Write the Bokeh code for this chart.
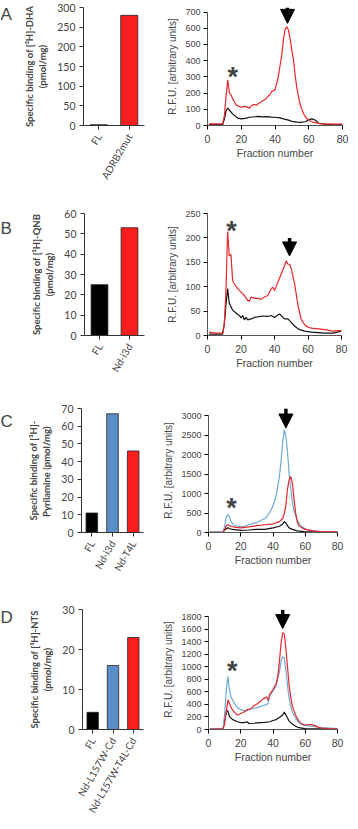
import math
from bokeh.plotting import figure
from bokeh.layouts import column, row
from bokeh.models import Range1d, FactorRange, SingleIntervalTicker, Label, Arrow, NormalHead
from bokeh.embed import file_html
from bokeh.resources import INLINE

# ---------------- data ----------------
A_cats = ["FL", "ADRB2mut"]
A_vals = [2, 280]
B_cats = ["FL", "Nd-i3d"]
B_vals = [25, 53]
C_cats = ["FL", "Nd-i3d", "Nd-T4L"]
C_vals = [11, 67, 46]
D_cats = ["FL", "Nd-L157W-Cd", "Nd-L157W-T4L-Cd"]
D_vals = [4.3, 16, 23]

A_red_x = [1,5,9,10,11,12,13,14,15,17,20,22,23,25,26,27,28,29,30,31,33,34,35,36,37,38,39,40,41,42,43,44,45,46,47,48,49,50,51,52,53,54,55,57,59,61,63,66,70,75,80]
A_red_y = [10,10,10,60,180,282,200,188,163,126,113,118,115,107,122,128,130,125,135,140,154,160,170,182,190,210,215,220,260,305,370,436,530,596,609,587,530,464,400,305,229,173,126,70,41,26,19,13,8,8,8]
A_blk_x = [1,5,9,10,11,12,13,15,18,20,23,25,28,30,33,35,38,40,43,45,48,50,53,55,58,60,62,64,66,70,75,80]
A_blk_y = [5,5,5,40,90,107,94,70,45,41,46,51,54,56,53,55,52,51,47,41,33,26,21,19,23,36,41,32,13,8,6,5]

B_red_x = [1,5,9,10,11,12,13,14,15,16,18,20,22,24,25,26,28,30,32,34,36,38,39,40,42,44,46,47,48,49,50,52,54,56,58,60,62,65,70,75,78,80]
B_red_y = [7,5,5,22,89,213,163,166,113,106,96,89,82,72,70,79,76,76,74,79,82,96,99,92,109,126,143,153,146,146,137,106,62,32,22,17,15,14,12,9,10,10]
B_blk_x = [1,5,9,10,11,12,13,14,15,17,19,20,21,22,23,24,26,28,30,33,36,38,40,42,43,44,46,48,50,52,55,58,62,70,75,80]
B_blk_y = [3,3,3,22,62,96,66,59,52,46,41,36,41,32,37,32,34,37,38,40,39,41,37,42,44,41,34,34,27,19,12,9,7,5,5,9]

C_blu_x = [1,5,9,10,11,12,13,14,16,18,20,22,25,28,30,33,35,36,38,40,42,44,45,46,47,48,49,50,51,52,53,55,57,60,63,66,70,80]
C_blu_y = [10,10,10,160,400,464,400,280,176,160,144,160,200,240,256,320,360,400,520,680,960,1440,1840,2320,2640,2480,2080,1520,1120,800,560,320,176,96,56,40,24,16]
C_red_x = [1,5,9,10,11,12,13,14,16,20,25,30,35,40,44,46,47,48,49,50,51,52,53,54,55,56,58,60,65,70,80]
C_red_y = [5,5,5,80,176,200,176,160,136,120,144,176,200,224,280,360,480,720,1120,1360,1440,1280,880,520,280,176,120,80,40,16,16]
C_blk_x = [1,5,9,10,12,13,15,20,25,30,35,40,44,46,47,48,49,50,52,55,60,70,80]
C_blk_y = [5,5,5,64,120,96,80,56,64,80,80,120,160,216,280,240,176,120,80,40,16,16,16]

D_red_x = [1,5,9,10,11,12,13,14,16,18,20,22,24,26,28,30,32,34,36,37,38,40,42,43,44,45,46,47,48,49,50,51,52,54,56,58,60,62,64,66,68,70,75,80]
D_red_y = [5,5,5,86,278,469,421,350,278,230,254,278,316,325,373,407,445,493,517,469,565,637,732,852,1091,1379,1546,1522,1283,996,708,517,373,230,134,86,72,77,77,62,38,24,14,10]
D_blu_x = [1,5,9,10,11,12,13,14,16,18,20,22,24,26,28,30,32,34,36,37,38,40,42,44,45,46,47,48,49,50,51,52,54,56,58,60,65,70,80]
D_blu_y = [5,5,5,230,613,843,637,517,421,350,316,302,302,325,335,350,364,383,397,421,541,613,708,924,1091,1163,1139,948,708,493,373,278,182,110,77,62,48,29,14]
D_blk_x = [1,5,9,10,11,12,13,15,18,20,22,24,25,28,30,35,38,40,42,44,46,47,48,49,50,52,54,56,60,70,80]
D_blk_y = [5,5,5,158,278,302,206,158,124,110,110,124,96,100,105,115,124,144,158,191,230,278,230,182,134,86,53,29,14,10,10]

BLACK = "#000000"
BLUE_BAR = "#5b8fc9"
RED_BAR = "#fb1e1e"
RED_LINE = "#e8262b"
BLUE_LINE = "#6fa8d2"
BLACK_LINE = "#111111"

BAR_FONT = "Lato"
LINE_FONT = "Liberation Sans"


def letter_fig(letter, h, y):
    p = figure(x_range=Range1d(0, 20), y_range=Range1d(0, h), width=20, height=h,
               output_backend="svg", toolbar_location=None, x_axis_type=None, y_axis_type=None,
               min_border_left=0, min_border_right=0, min_border_top=0, min_border_bottom=0)
    p.outline_line_color = None
    p.grid.visible = False
    p.background_fill_color = None
    p.border_fill_color = None
    p.add_layout(Label(x=0, y=y, text=letter, text_font=LINE_FONT, text_font_size="17px",
                       text_baseline="alphabetic", text_align="left"))
    return p


def bar_fig(cats, vals, colors, ymax, ystep, ylabel, w, h, left, right, top, bottom):
    p = figure(x_range=FactorRange(*cats), y_range=Range1d(0, ymax), width=w, height=h,
               output_backend="svg", toolbar_location=None,
               min_border_left=left, min_border_right=right, min_border_top=top, min_border_bottom=bottom)
    p.vbar(x=cats, top=vals, width=0.56, fill_color=colors, line_color="#222222", line_width=0.8)
    p.outline_line_color = None
    p.grid.visible = False
    p.background_fill_color = None
    p.border_fill_color = None
    ya = p.yaxis[0]
    ya.ticker = SingleIntervalTicker(interval=ystep, num_minor_ticks=0)
    ya.major_tick_out = 4
    ya.major_tick_in = 0
    ya.minor_tick_line_color = None
    ya.major_label_text_font = BAR_FONT
    ya.major_label_text_font_size = "10.5px"
    ya.major_label_standoff = 4
    ya.axis_label = ylabel
    ya.axis_label_text_font = BAR_FONT
    ya.axis_label_text_font_style = "bold"
    ya.axis_label_text_font_size = "9.5px"
    ya.axis_label_standoff = 6
    ya.axis_line_color = "#333333"
    ya.major_tick_line_color = "#333333"
    xa = p.xaxis[0]
    xa.major_tick_line_color = "#333333"
    xa.major_tick_out = 4
    xa.major_tick_in = 0
    xa.minor_tick_line_color = None
    xa.major_label_orientation = math.pi / 3
    xa.major_label_text_font = BAR_FONT
    xa.major_label_text_font_size = "10px"
    xa.major_label_standoff = 5
    xa.axis_line_color = "#333333"
    return p


def line_fig(series, ytop, ymax, ystep, w, h, left, right, top, bottom, star, arrow):
    p = figure(x_range=Range1d(0, 80), y_range=Range1d(0, ytop), width=w, height=h,
               output_backend="svg", toolbar_location=None,
               min_border_left=left, min_border_right=right, min_border_top=top, min_border_bottom=bottom)
    for xs, ys, col in series:
        p.line(xs, ys, line_color=col, line_width=1.2)
    p.outline_line_color = None
    p.grid.visible = False
    p.background_fill_color = None
    p.border_fill_color = None
    ya = p.yaxis[0]
    ya.bounds = (0, ymax)
    ya.ticker = SingleIntervalTicker(interval=ystep, num_minor_ticks=0)
    ya.major_tick_out = 4
    ya.major_tick_in = 0
    ya.minor_tick_line_color = None
    ya.major_label_text_font = LINE_FONT
    ya.major_label_text_font_size = "9px"
    ya.major_label_standoff = 3
    ya.axis_label = "R.F.U. [arbitrary units]"
    ya.axis_label_text_font = LINE_FONT
    ya.axis_label_text_font_style = "normal"
    ya.axis_label_text_font_size = "10px"
    ya.axis_label_standoff = 4
    ya.axis_line_color = "#555555"
    xa = p.xaxis[0]
    xa.ticker = SingleIntervalTicker(interval=20, num_minor_ticks=0)
    xa.major_tick_out = 4
    xa.major_tick_in = 0
    xa.minor_tick_line_color = None
    xa.major_label_text_font = LINE_FONT
    xa.major_label_text_font_size = "10.5px"
    xa.major_label_standoff = 5
    xa.axis_label = "Fraction number"
    xa.axis_label_text_font = LINE_FONT
    xa.axis_label_text_font_style = "normal"
    xa.axis_label_text_font_size = "10.5px"
    xa.axis_label_standoff = 1
    xa.axis_line_color = "#555555"
    p.add_layout(Label(x=star[0], y=star[1], text="*", text_font=LINE_FONT, text_font_size="27px",
                       text_font_style="bold", text_align="center", text_baseline="middle"))
    p.add_layout(Arrow(end=NormalHead(size=14, fill_color="black", line_color="black"),
                       x_start=arrow[0], y_start=arrow[1], x_end=arrow[0], y_end=arrow[2],
                       line_width=3.5, line_color="black"))
    return p


# Row A (page y 8..200)
letA = letter_fig("A", 192, 180)
barA = bar_fig(A_cats, A_vals, [BLACK, RED_BAR], 300, 50, "Specific binding of [³H]-DHA\n(pmol/mg)",
               144, 192, 63, 20, 7, 67)
lineA = line_fig([(A_blk_x, A_blk_y, BLACK_LINE), (A_red_x, A_red_y, RED_LINE)], 728, 700, 100,
                 186, 192, 43, 8, 0, 63, (15, 300), (47.4, 728, 630))
# Row B (page y 200..400)
letB = letter_fig("B", 200, 176)
barB = bar_fig(B_cats, B_vals, [BLACK, RED_BAR], 60, 10, "Specific binding of [³H]-QNB\n(pmol/mg)",
               144, 200, 64, 20, 21, 57)
lineB = line_fig([(B_blk_x, B_blk_y, BLACK_LINE), (B_red_x, B_red_y, RED_LINE)], 250, 250, 50,
                 186, 200, 43, 9, 20, 56, (14.3, 214), (49, 200, 163))
# Row C (page y 400..598)
letC = letter_fig("C", 198, 177)
barC = bar_fig(C_cats, C_vals, [BLACK, BLUE_BAR, RED_BAR], 70, 10, "Specific binding of [³H]-\nPyrilamine  (pmol/mg)",
               140, 198, 61, 17, 16, 58)
lineC = line_fig([(C_blk_x, C_blk_y, BLACK_LINE), (C_blu_x, C_blu_y, BLUE_LINE), (C_red_x, C_red_y, RED_LINE)], 3192, 3000, 500,
                 190, 198, 47, 13, 7, 58, (14.2, 640), (48, 3190, 2690))
# Row D (page y 598..829)
letD = letter_fig("D", 231, 215)
barD = bar_fig(D_cats, D_vals, [BLACK, BLUE_BAR, RED_BAR], 30, 10, "Specific binding of [³H]-NTS\n(pmol/mg)",
               140, 231, 62, 17, 19, 92)
lineD = line_fig([(D_blk_x, D_blk_y, BLACK_LINE), (D_blu_x, D_blu_y, BLUE_LINE), (D_red_x, D_red_y, RED_LINE)], 1914, 1800, 200,
                 190, 231, 47, 13, 8, 89, (14.8, 940), (46, 1910, 1610))

layout = column(row(letA, barA, lineA), row(letB, barB, lineB), row(letC, barC, lineC), row(letD, barD, lineD))

open("out.html", "w").write(file_html(layout, INLINE))
